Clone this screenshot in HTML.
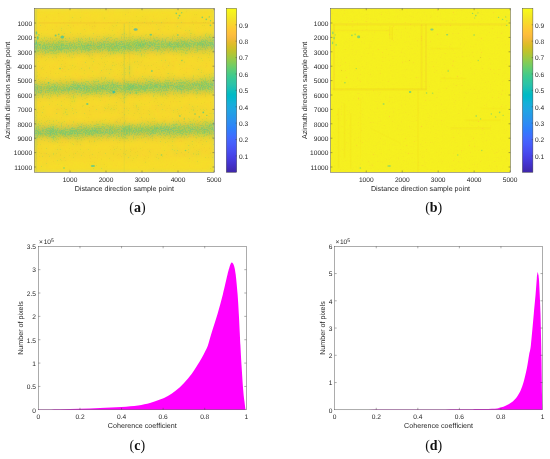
<!DOCTYPE html>
<html lang="en"><head><meta charset="utf-8"><title>Coherence coefficient maps and histograms</title>
<style>
html,body{margin:0;padding:0;background:#fff;}
body{width:550px;height:459px;overflow:hidden;}
svg{display:block;}
.t{text-rendering:geometricPrecision;font-family:"Liberation Sans",Arial,sans-serif;fill:#262626;}
.tk{font-size:6.6px;}
.lb{font-size:7.15px;}
.cap{font-family:"Liberation Serif","DejaVu Serif",serif;font-size:14px;fill:#111;}
.cap .b{font-weight:bold;}
.ax{stroke:#3a3a3a;stroke-width:0.42;fill:none;}
</style></head><body>
<svg width="550" height="459" viewBox="0 0 550 459">
<defs>
<linearGradient id="cb" x1="0" y1="0" x2="0" y2="1">
<stop offset="0.0000" stop-color="#f9fb15"/>
<stop offset="0.0159" stop-color="#f7f51b"/>
<stop offset="0.0317" stop-color="#f6ef20"/>
<stop offset="0.0476" stop-color="#f5e924"/>
<stop offset="0.0635" stop-color="#f5e327"/>
<stop offset="0.0794" stop-color="#f7dc2a"/>
<stop offset="0.0952" stop-color="#fad62d"/>
<stop offset="0.1111" stop-color="#fccf30"/>
<stop offset="0.1270" stop-color="#fec934"/>
<stop offset="0.1429" stop-color="#fec338"/>
<stop offset="0.1587" stop-color="#febe3c"/>
<stop offset="0.1746" stop-color="#f8ba3d"/>
<stop offset="0.1905" stop-color="#f0ba36"/>
<stop offset="0.2063" stop-color="#e6bb2d"/>
<stop offset="0.2222" stop-color="#dcbd29"/>
<stop offset="0.2381" stop-color="#d1bf27"/>
<stop offset="0.2540" stop-color="#c5c22a"/>
<stop offset="0.2698" stop-color="#b9c431"/>
<stop offset="0.2857" stop-color="#abc739"/>
<stop offset="0.3016" stop-color="#9dc943"/>
<stop offset="0.3175" stop-color="#8fcb4e"/>
<stop offset="0.3333" stop-color="#81cc59"/>
<stop offset="0.3492" stop-color="#72cd64"/>
<stop offset="0.3651" stop-color="#64cd6f"/>
<stop offset="0.3810" stop-color="#57cc7a"/>
<stop offset="0.3968" stop-color="#4acb84"/>
<stop offset="0.4127" stop-color="#3fca8e"/>
<stop offset="0.4286" stop-color="#37c897"/>
<stop offset="0.4444" stop-color="#31c69f"/>
<stop offset="0.4603" stop-color="#2cc4a7"/>
<stop offset="0.4762" stop-color="#24c1ae"/>
<stop offset="0.4921" stop-color="#19bfb6"/>
<stop offset="0.5079" stop-color="#0bbdbd"/>
<stop offset="0.5238" stop-color="#02bac3"/>
<stop offset="0.5397" stop-color="#01b8ca"/>
<stop offset="0.5556" stop-color="#08b5d0"/>
<stop offset="0.5714" stop-color="#12b1d6"/>
<stop offset="0.5873" stop-color="#18addb"/>
<stop offset="0.6032" stop-color="#1ca9df"/>
<stop offset="0.6190" stop-color="#20a5e3"/>
<stop offset="0.6349" stop-color="#23a0e5"/>
<stop offset="0.6508" stop-color="#259be8"/>
<stop offset="0.6667" stop-color="#2797eb"/>
<stop offset="0.6825" stop-color="#2b91ef"/>
<stop offset="0.6984" stop-color="#2d8cf3"/>
<stop offset="0.7143" stop-color="#2e87f7"/>
<stop offset="0.7302" stop-color="#2f81fa"/>
<stop offset="0.7460" stop-color="#327cfc"/>
<stop offset="0.7619" stop-color="#3875fe"/>
<stop offset="0.7778" stop-color="#3e6fff"/>
<stop offset="0.7937" stop-color="#4269fe"/>
<stop offset="0.8095" stop-color="#4563fd"/>
<stop offset="0.8254" stop-color="#465efb"/>
<stop offset="0.8413" stop-color="#4758f8"/>
<stop offset="0.8571" stop-color="#4852f4"/>
<stop offset="0.8730" stop-color="#484df0"/>
<stop offset="0.8889" stop-color="#4747eb"/>
<stop offset="0.9048" stop-color="#4741e5"/>
<stop offset="0.9206" stop-color="#463cde"/>
<stop offset="0.9365" stop-color="#4537d5"/>
<stop offset="0.9524" stop-color="#4332cb"/>
<stop offset="0.9683" stop-color="#422ec0"/>
<stop offset="0.9841" stop-color="#402ab4"/>
<stop offset="1.0000" stop-color="#3e26a8"/>
</linearGradient>
<filter id="fa" x="0" y="0" width="1" height="1" color-interpolation-filters="sRGB">
<feTurbulence type="fractalNoise" baseFrequency="0.75" numOctaves="2" seed="3" result="n"/>
<feColorMatrix in="n" type="matrix" values="1 0 0 0 0  1 0 0 0 0  1 0 0 0 0  0 0 0 0 1" result="ng"/>
<feComposite in="SourceGraphic" in2="ng" operator="arithmetic" k1="0" k2="1" k3="1" k4="-0.5" result="x"/>
<feComponentTransfer in="x" result="col">
<feFuncR type="table" tableValues="0.177 0.173 0.169 0.163 0.155 0.151 0.147 0.143 0.139 0.132 0.126 0.120 0.114 0.107 0.100 0.091 0.080 0.068 0.051 0.033 0.021 0.009 0.004 0.006 0.011 0.027 0.043 0.067 0.090 0.111 0.130 0.149 0.165 0.178 0.189 0.200 0.211 0.225 0.241 0.260 0.282 0.318 0.356 0.395 0.436 0.480 0.567 0.650 0.730 0.803 0.869 0.920 0.966 0.996 0.996 0.991 0.990 0.989 0.988 0.986 0.985 0.984 0.982 0.981 0.980 0.978 0.977 0.976 0.976 0.975 0.974 0.972 0.971 0.970 0.969 0.968 0.967 0.967 0.966 0.965 0.965 0.964 0.964 0.963 0.963 0.962 0.962 0.961 0.961 0.961 0.961 0.961 0.961 0.960 0.960 0.960 0.960 0.960 0.960 0.960 0.960"/>
<feFuncG type="table" tableValues="0.548 0.558 0.568 0.578 0.589 0.598 0.608 0.617 0.626 0.636 0.645 0.653 0.660 0.668 0.675 0.682 0.689 0.695 0.701 0.707 0.712 0.718 0.723 0.728 0.732 0.737 0.741 0.745 0.749 0.753 0.756 0.761 0.765 0.769 0.774 0.778 0.782 0.786 0.790 0.793 0.796 0.799 0.801 0.803 0.802 0.801 0.794 0.783 0.769 0.754 0.740 0.731 0.730 0.746 0.776 0.808 0.811 0.814 0.817 0.820 0.823 0.826 0.830 0.833 0.836 0.839 0.841 0.843 0.846 0.848 0.850 0.853 0.855 0.858 0.860 0.863 0.865 0.868 0.870 0.873 0.876 0.877 0.879 0.881 0.883 0.885 0.887 0.889 0.891 0.893 0.894 0.896 0.897 0.899 0.901 0.902 0.904 0.905 0.907 0.908 0.910"/>
<feFuncB type="table" tableValues="0.954 0.945 0.937 0.930 0.923 0.916 0.909 0.903 0.898 0.893 0.889 0.884 0.878 0.872 0.865 0.857 0.848 0.839 0.829 0.818 0.808 0.797 0.786 0.774 0.763 0.751 0.740 0.727 0.715 0.703 0.691 0.677 0.662 0.647 0.632 0.616 0.599 0.582 0.564 0.545 0.526 0.497 0.465 0.432 0.399 0.366 0.301 0.238 0.188 0.158 0.162 0.192 0.233 0.235 0.213 0.192 0.190 0.188 0.187 0.185 0.184 0.182 0.181 0.179 0.178 0.176 0.175 0.174 0.173 0.172 0.171 0.170 0.169 0.167 0.166 0.165 0.164 0.163 0.162 0.160 0.159 0.159 0.158 0.157 0.156 0.155 0.155 0.154 0.153 0.152 0.151 0.150 0.150 0.149 0.148 0.148 0.147 0.146 0.145 0.145 0.144"/>
<feFuncA type="linear" slope="0" intercept="1"/>
</feComponentTransfer>
<feGaussianBlur in="col" stdDeviation="0.50" result="b1"/>
<feGaussianBlur in="col" stdDeviation="2.50" result="b2"/>
<feComposite in="b1" in2="b2" operator="arithmetic" k1="0" k2="0.18" k3="0.82" k4="0"/>
</filter>
<filter id="fb" x="0" y="0" width="1" height="1" color-interpolation-filters="sRGB">
<feTurbulence type="fractalNoise" baseFrequency="0.75" numOctaves="2" seed="11" result="n"/>
<feColorMatrix in="n" type="matrix" values="1 0 0 0 0  1 0 0 0 0  1 0 0 0 0  0 0 0 0 1" result="ng"/>
<feComposite in="SourceGraphic" in2="ng" operator="arithmetic" k1="0" k2="1" k3="1" k4="-0.5" result="x"/>
<feComponentTransfer in="x" result="col">
<feFuncR type="table" tableValues="0.177 0.173 0.169 0.163 0.155 0.151 0.147 0.143 0.139 0.132 0.126 0.119 0.112 0.104 0.096 0.083 0.070 0.051 0.031 0.017 0.004 0.005 0.011 0.032 0.056 0.087 0.113 0.139 0.157 0.174 0.186 0.207 0.233 0.268 0.312 0.359 0.408 0.461 0.516 0.570 0.623 0.684 0.742 0.797 0.848 0.894 0.936 0.974 0.996 0.996 0.993 0.989 0.983 0.977 0.971 0.966 0.964 0.962 0.961 0.961 0.960 0.960 0.960 0.960 0.960 0.961 0.961 0.961 0.962 0.962 0.962 0.962 0.962 0.962 0.963 0.963 0.963 0.963 0.963 0.963 0.963 0.964 0.964 0.964 0.964 0.964 0.964 0.964 0.964 0.964 0.964 0.964 0.965 0.965 0.965 0.965 0.965 0.965 0.965 0.965 0.965"/>
<feFuncG type="table" tableValues="0.548 0.558 0.568 0.578 0.589 0.598 0.608 0.617 0.626 0.636 0.645 0.654 0.663 0.671 0.679 0.687 0.694 0.701 0.708 0.714 0.720 0.726 0.732 0.738 0.743 0.748 0.753 0.758 0.763 0.768 0.773 0.781 0.788 0.794 0.799 0.802 0.803 0.802 0.798 0.793 0.787 0.777 0.766 0.755 0.744 0.735 0.729 0.730 0.747 0.773 0.800 0.814 0.828 0.842 0.857 0.871 0.877 0.883 0.890 0.896 0.902 0.906 0.910 0.913 0.917 0.920 0.923 0.925 0.928 0.930 0.932 0.933 0.934 0.935 0.935 0.936 0.937 0.938 0.938 0.939 0.940 0.940 0.940 0.941 0.941 0.941 0.942 0.942 0.942 0.943 0.943 0.943 0.944 0.944 0.945 0.945 0.945 0.946 0.946 0.947 0.947"/>
<feFuncB type="table" tableValues="0.954 0.945 0.937 0.930 0.923 0.916 0.909 0.903 0.898 0.893 0.889 0.883 0.877 0.869 0.861 0.850 0.840 0.829 0.817 0.805 0.792 0.778 0.763 0.748 0.733 0.717 0.701 0.686 0.669 0.653 0.636 0.606 0.573 0.538 0.502 0.463 0.421 0.380 0.339 0.298 0.257 0.215 0.181 0.159 0.157 0.173 0.207 0.239 0.234 0.215 0.197 0.188 0.182 0.175 0.168 0.161 0.159 0.156 0.153 0.150 0.148 0.146 0.144 0.142 0.140 0.138 0.136 0.135 0.133 0.131 0.130 0.129 0.129 0.128 0.128 0.127 0.127 0.126 0.126 0.125 0.124 0.124 0.124 0.124 0.123 0.123 0.123 0.123 0.122 0.122 0.122 0.121 0.121 0.121 0.120 0.120 0.119 0.119 0.119 0.118 0.118"/>
<feFuncA type="linear" slope="0" intercept="1"/>
</feComponentTransfer>
<feGaussianBlur in="col" stdDeviation="0.40" result="b1"/>
<feGaussianBlur in="col" stdDeviation="1.00" result="b2"/>
<feComposite in="b1" in2="b2" operator="arithmetic" k1="0" k2="0.50" k3="0.50" k4="0"/>
</filter>
<linearGradient id="ga" gradientUnits="userSpaceOnUse" x1="34.30" y1="8.40" x2="37.42" y2="178.40">
<stop offset="0.0000" stop-color="#c7c7c7"/>
<stop offset="0.0118" stop-color="#c7c7c7"/>
<stop offset="0.0235" stop-color="#c7c7c7"/>
<stop offset="0.0353" stop-color="#c7c7c7"/>
<stop offset="0.0471" stop-color="#c7c7c7"/>
<stop offset="0.0588" stop-color="#c6c6c6"/>
<stop offset="0.0706" stop-color="#c4c4c4"/>
<stop offset="0.0824" stop-color="#c0c0c0"/>
<stop offset="0.0941" stop-color="#bcbcbc"/>
<stop offset="0.1059" stop-color="#bababa"/>
<stop offset="0.1176" stop-color="#bbbbbb"/>
<stop offset="0.1294" stop-color="#bdbdbd"/>
<stop offset="0.1412" stop-color="#bebebe"/>
<stop offset="0.1529" stop-color="#bababa"/>
<stop offset="0.1647" stop-color="#b2b2b2"/>
<stop offset="0.1765" stop-color="#a6a6a6"/>
<stop offset="0.1882" stop-color="#979797"/>
<stop offset="0.2000" stop-color="#888888"/>
<stop offset="0.2118" stop-color="#7b7b7b"/>
<stop offset="0.2235" stop-color="#747474"/>
<stop offset="0.2353" stop-color="#747474"/>
<stop offset="0.2471" stop-color="#7b7b7b"/>
<stop offset="0.2588" stop-color="#888888"/>
<stop offset="0.2706" stop-color="#979797"/>
<stop offset="0.2824" stop-color="#a6a6a6"/>
<stop offset="0.2941" stop-color="#b1b1b1"/>
<stop offset="0.3059" stop-color="#b8b8b8"/>
<stop offset="0.3176" stop-color="#bababa"/>
<stop offset="0.3294" stop-color="#b8b8b8"/>
<stop offset="0.3412" stop-color="#b5b5b5"/>
<stop offset="0.3529" stop-color="#b4b4b4"/>
<stop offset="0.3647" stop-color="#b5b5b5"/>
<stop offset="0.3765" stop-color="#b8b8b8"/>
<stop offset="0.3882" stop-color="#b9b9b9"/>
<stop offset="0.4000" stop-color="#b6b6b6"/>
<stop offset="0.4118" stop-color="#afafaf"/>
<stop offset="0.4235" stop-color="#a3a3a3"/>
<stop offset="0.4353" stop-color="#949494"/>
<stop offset="0.4471" stop-color="#858585"/>
<stop offset="0.4588" stop-color="#797979"/>
<stop offset="0.4706" stop-color="#737373"/>
<stop offset="0.4824" stop-color="#757575"/>
<stop offset="0.4941" stop-color="#7d7d7d"/>
<stop offset="0.5059" stop-color="#8b8b8b"/>
<stop offset="0.5176" stop-color="#9a9a9a"/>
<stop offset="0.5294" stop-color="#a8a8a8"/>
<stop offset="0.5412" stop-color="#b3b3b3"/>
<stop offset="0.5529" stop-color="#bababa"/>
<stop offset="0.5647" stop-color="#bcbcbc"/>
<stop offset="0.5765" stop-color="#b9b9b9"/>
<stop offset="0.5882" stop-color="#b4b4b4"/>
<stop offset="0.6000" stop-color="#b0b0b0"/>
<stop offset="0.6118" stop-color="#b0b0b0"/>
<stop offset="0.6235" stop-color="#b3b3b3"/>
<stop offset="0.6353" stop-color="#b7b7b7"/>
<stop offset="0.6471" stop-color="#b8b8b8"/>
<stop offset="0.6588" stop-color="#b5b5b5"/>
<stop offset="0.6706" stop-color="#acacac"/>
<stop offset="0.6824" stop-color="#9f9f9f"/>
<stop offset="0.6941" stop-color="#8f8f8f"/>
<stop offset="0.7059" stop-color="#818181"/>
<stop offset="0.7176" stop-color="#777777"/>
<stop offset="0.7294" stop-color="#737373"/>
<stop offset="0.7412" stop-color="#777777"/>
<stop offset="0.7529" stop-color="#818181"/>
<stop offset="0.7647" stop-color="#8f8f8f"/>
<stop offset="0.7765" stop-color="#9f9f9f"/>
<stop offset="0.7882" stop-color="#acacac"/>
<stop offset="0.8000" stop-color="#b6b6b6"/>
<stop offset="0.8118" stop-color="#bcbcbc"/>
<stop offset="0.8235" stop-color="#bdbdbd"/>
<stop offset="0.8353" stop-color="#b9b9b9"/>
<stop offset="0.8471" stop-color="#b4b4b4"/>
<stop offset="0.8588" stop-color="#b0b0b0"/>
<stop offset="0.8706" stop-color="#b0b0b0"/>
<stop offset="0.8824" stop-color="#b5b5b5"/>
<stop offset="0.8941" stop-color="#bbbbbb"/>
<stop offset="0.9059" stop-color="#c1c1c1"/>
<stop offset="0.9176" stop-color="#c4c4c4"/>
<stop offset="0.9294" stop-color="#c6c6c6"/>
<stop offset="0.9412" stop-color="#c7c7c7"/>
<stop offset="0.9529" stop-color="#c7c7c7"/>
<stop offset="0.9647" stop-color="#c7c7c7"/>
<stop offset="0.9765" stop-color="#c7c7c7"/>
<stop offset="0.9882" stop-color="#c7c7c7"/>
<stop offset="1.0000" stop-color="#c7c7c7"/>
</linearGradient>
<clipPath id="ca"><rect x="34.30" y="8.40" width="180.00" height="163.90"/></clipPath>
<clipPath id="cpb"><rect x="330.60" y="8.40" width="179.80" height="163.90"/></clipPath>
<filter id="soft" x="-5%" y="-5%" width="110%" height="110%"><feGaussianBlur stdDeviation="0.5"/></filter>
</defs>
<rect x="0" y="0" width="550" height="459" fill="#ffffff"/>
<g filter="url(#fa)" clip-path="url(#ca)">
<rect x="32.30" y="6.40" width="184.00" height="167.90" fill="url(#ga)"/>
<g opacity="0.4">
<path d="M124.3 24.4L124.3 128.4" stroke="#808080" stroke-width="1.2" fill="none"/>
<path d="M129.5 24.4L129.5 78.4" stroke="#8c8c8c" stroke-width="1.2" fill="none"/>
<path d="M94.5 18.4L94.5 38.6" stroke="#858585" stroke-width="1.0" fill="none"/>
<path d="M53.3 38.6L94.5 38.6" stroke="#808080" stroke-width="1.0" fill="none"/>
<path d="M100.0 35.0L100.0 46.0" stroke="#808080" stroke-width="1.0" fill="none"/>
<path d="M35.8 8.4L35.8 172.4" stroke="#8c8c8c" stroke-width="1.0" fill="none"/>
<path d="M39.3 28.4L39.3 172.4" stroke="#999999" stroke-width="1.0" fill="none"/>
<path d="M46.7 148.4L46.7 168.4" stroke="#595959" stroke-width="1.0" fill="none"/>
<path d="M38.3 22.9L211.3 22.9" stroke="#999999" stroke-width="1.0" fill="none"/>
</g>
</g>
<g clip-path="url(#ca)"><g filter="url(#soft)">
<ellipse cx="135.6" cy="29.5" rx="2.0" ry="1.2" fill="#19addc" fill-opacity="0.60"/>
<ellipse cx="150.8" cy="34.8" rx="1.3" ry="1.0" fill="#2ac3a9" fill-opacity="0.60"/>
<ellipse cx="177.8" cy="35.0" rx="1.0" ry="0.8" fill="#38c896" fill-opacity="0.60"/>
<ellipse cx="62.3" cy="36.9" rx="1.8" ry="1.5" fill="#0dbdbc" fill-opacity="0.60"/>
<ellipse cx="55.6" cy="35.4" rx="1.0" ry="1.0" fill="#2ac3a9" fill-opacity="0.60"/>
<ellipse cx="58.8" cy="34.4" rx="0.7" ry="0.9" fill="#38c896" fill-opacity="0.60"/>
<ellipse cx="36.5" cy="32.9" rx="0.9" ry="1.6" fill="#2ac3a9" fill-opacity="0.60"/>
<ellipse cx="37.8" cy="37.9" rx="1.0" ry="1.8" fill="#2fc5a2" fill-opacity="0.60"/>
<ellipse cx="36.3" cy="42.9" rx="0.8" ry="1.6" fill="#35c79a" fill-opacity="0.60"/>
<ellipse cx="39.8" cy="44.9" rx="0.8" ry="0.9" fill="#41ca8c" fill-opacity="0.60"/>
<ellipse cx="38.9" cy="34.9" rx="0.7" ry="0.8" fill="#41ca8c" fill-opacity="0.60"/>
<ellipse cx="113.8" cy="92.0" rx="1.5" ry="1.2" fill="#01b9c8" fill-opacity="0.60"/>
<ellipse cx="130.3" cy="93.0" rx="1.0" ry="0.8" fill="#38c896" fill-opacity="0.60"/>
<ellipse cx="136.3" cy="93.2" rx="1.0" ry="0.7" fill="#53cc7d" fill-opacity="0.60"/>
<ellipse cx="87.3" cy="104.0" rx="1.2" ry="1.0" fill="#2ac3a9" fill-opacity="0.60"/>
<ellipse cx="48.6" cy="82.8" rx="0.9" ry="0.9" fill="#38c896" fill-opacity="0.60"/>
<ellipse cx="151.9" cy="71.0" rx="0.9" ry="0.9" fill="#38c896" fill-opacity="0.60"/>
<ellipse cx="181.9" cy="60.5" rx="0.8" ry="0.8" fill="#53cc7d" fill-opacity="0.60"/>
<ellipse cx="179.9" cy="116.0" rx="0.9" ry="0.8" fill="#2fc5a2" fill-opacity="0.60"/>
<ellipse cx="195.0" cy="114.0" rx="0.8" ry="0.8" fill="#38c896" fill-opacity="0.60"/>
<ellipse cx="203.3" cy="112.4" rx="0.9" ry="0.9" fill="#2fc5a2" fill-opacity="0.60"/>
<ellipse cx="184.3" cy="118.9" rx="0.7" ry="0.7" fill="#53cc7d" fill-opacity="0.60"/>
<ellipse cx="199.3" cy="116.9" rx="0.8" ry="0.7" fill="#46cb87" fill-opacity="0.60"/>
<ellipse cx="206.8" cy="115.4" rx="0.7" ry="0.7" fill="#53cc7d" fill-opacity="0.60"/>
<ellipse cx="92.9" cy="166.0" rx="2.2" ry="0.9" fill="#23c1af" fill-opacity="0.60"/>
<ellipse cx="64.0" cy="168.0" rx="0.9" ry="0.8" fill="#46cb87" fill-opacity="0.60"/>
<ellipse cx="176.3" cy="13.4" rx="0.8" ry="0.8" fill="#2fc5a2" fill-opacity="0.60"/>
<ellipse cx="179.5" cy="15.6" rx="0.9" ry="0.9" fill="#2fc5a2" fill-opacity="0.60"/>
<ellipse cx="181.7" cy="12.8" rx="0.7" ry="0.7" fill="#46cb87" fill-opacity="0.60"/>
<ellipse cx="178.3" cy="18.0" rx="0.7" ry="0.7" fill="#53cc7d" fill-opacity="0.60"/>
<ellipse cx="202.3" cy="17.4" rx="0.8" ry="0.8" fill="#38c896" fill-opacity="0.60"/>
<ellipse cx="206.3" cy="19.4" rx="0.8" ry="0.8" fill="#38c896" fill-opacity="0.60"/>
<ellipse cx="209.3" cy="16.9" rx="0.7" ry="0.7" fill="#46cb87" fill-opacity="0.60"/>
<ellipse cx="210.5" cy="20.8" rx="0.7" ry="0.7" fill="#46cb87" fill-opacity="0.60"/>
<ellipse cx="210.4" cy="25.4" rx="0.8" ry="0.8" fill="#38c896" fill-opacity="0.60"/>
<ellipse cx="185.5" cy="150.5" rx="0.8" ry="0.8" fill="#53cc7d" fill-opacity="0.60"/>
<ellipse cx="161.5" cy="155.0" rx="0.8" ry="0.8" fill="#53cc7d" fill-opacity="0.60"/>
<ellipse cx="60.0" cy="68.6" rx="0.8" ry="0.8" fill="#53cc7d" fill-opacity="0.60"/>
</g></g>
<g clip-path="url(#ca)" stroke="#5fb98a" fill="none">
<path d="M124.3 23.4V103.4" stroke-opacity="0.17" stroke-width="1.2"/>
<path d="M124.3 103.4V172.4" stroke-opacity="0.07" stroke-width="1.2"/>
<path d="M129.5 24.4V78.4" stroke-opacity="0.09" stroke-width="1.2"/>
<path d="M36.3 8.4V172.4" stroke-opacity="0.14" stroke-width="1.6"/>
<path d="M38.3 22.9H211.3" stroke="#e8a030" stroke-opacity="0.18" stroke-width="1.2"/>
</g>
<g filter="url(#fb)" clip-path="url(#cpb)">
<rect x="328.60" y="6.40" width="183.80" height="167.90" fill="#d9d9d9"/>
</g>
<g clip-path="url(#cpb)"><g filter="url(#soft)">
<ellipse cx="431.9" cy="29.5" rx="1.7" ry="1.0" fill="#19addc" fill-opacity="0.50"/>
<ellipse cx="447.1" cy="34.8" rx="1.1" ry="0.8" fill="#2ac3a9" fill-opacity="0.50"/>
<ellipse cx="474.1" cy="35.0" rx="0.8" ry="0.7" fill="#38c896" fill-opacity="0.50"/>
<ellipse cx="358.6" cy="36.9" rx="1.5" ry="1.3" fill="#0dbdbc" fill-opacity="0.50"/>
<ellipse cx="351.9" cy="35.4" rx="0.8" ry="0.8" fill="#2ac3a9" fill-opacity="0.50"/>
<ellipse cx="355.1" cy="34.4" rx="0.6" ry="0.8" fill="#38c896" fill-opacity="0.50"/>
<ellipse cx="332.8" cy="32.9" rx="0.8" ry="1.4" fill="#2ac3a9" fill-opacity="0.50"/>
<ellipse cx="334.1" cy="37.9" rx="0.8" ry="1.5" fill="#2fc5a2" fill-opacity="0.50"/>
<ellipse cx="332.6" cy="42.9" rx="0.7" ry="1.4" fill="#35c79a" fill-opacity="0.50"/>
<ellipse cx="336.1" cy="44.9" rx="0.7" ry="0.8" fill="#41ca8c" fill-opacity="0.50"/>
<ellipse cx="335.2" cy="34.9" rx="0.6" ry="0.7" fill="#41ca8c" fill-opacity="0.50"/>
<ellipse cx="410.1" cy="92.0" rx="1.3" ry="1.0" fill="#01b9c8" fill-opacity="0.50"/>
<ellipse cx="426.6" cy="93.0" rx="0.8" ry="0.7" fill="#38c896" fill-opacity="0.50"/>
<ellipse cx="432.6" cy="93.2" rx="0.8" ry="0.6" fill="#53cc7d" fill-opacity="0.50"/>
<ellipse cx="383.6" cy="104.0" rx="1.0" ry="0.8" fill="#2ac3a9" fill-opacity="0.50"/>
<ellipse cx="344.9" cy="82.8" rx="0.8" ry="0.8" fill="#38c896" fill-opacity="0.50"/>
<ellipse cx="448.2" cy="71.0" rx="0.8" ry="0.8" fill="#38c896" fill-opacity="0.50"/>
<ellipse cx="478.2" cy="60.5" rx="0.7" ry="0.7" fill="#53cc7d" fill-opacity="0.50"/>
<ellipse cx="476.2" cy="116.0" rx="0.8" ry="0.7" fill="#2fc5a2" fill-opacity="0.50"/>
<ellipse cx="491.3" cy="114.0" rx="0.7" ry="0.7" fill="#38c896" fill-opacity="0.50"/>
<ellipse cx="499.6" cy="112.4" rx="0.8" ry="0.8" fill="#2fc5a2" fill-opacity="0.50"/>
<ellipse cx="480.6" cy="118.9" rx="0.6" ry="0.6" fill="#53cc7d" fill-opacity="0.50"/>
<ellipse cx="495.6" cy="116.9" rx="0.7" ry="0.6" fill="#46cb87" fill-opacity="0.50"/>
<ellipse cx="503.1" cy="115.4" rx="0.6" ry="0.6" fill="#53cc7d" fill-opacity="0.50"/>
<ellipse cx="389.2" cy="166.0" rx="1.9" ry="0.8" fill="#23c1af" fill-opacity="0.50"/>
<ellipse cx="360.3" cy="168.0" rx="0.8" ry="0.7" fill="#46cb87" fill-opacity="0.50"/>
<ellipse cx="472.6" cy="13.4" rx="0.7" ry="0.7" fill="#2fc5a2" fill-opacity="0.50"/>
<ellipse cx="475.8" cy="15.6" rx="0.8" ry="0.8" fill="#2fc5a2" fill-opacity="0.50"/>
<ellipse cx="478.0" cy="12.8" rx="0.6" ry="0.6" fill="#46cb87" fill-opacity="0.50"/>
<ellipse cx="474.6" cy="18.0" rx="0.6" ry="0.6" fill="#53cc7d" fill-opacity="0.50"/>
<ellipse cx="498.6" cy="17.4" rx="0.7" ry="0.7" fill="#38c896" fill-opacity="0.50"/>
<ellipse cx="502.6" cy="19.4" rx="0.7" ry="0.7" fill="#38c896" fill-opacity="0.50"/>
<ellipse cx="505.6" cy="16.9" rx="0.6" ry="0.6" fill="#46cb87" fill-opacity="0.50"/>
<ellipse cx="506.8" cy="20.8" rx="0.6" ry="0.6" fill="#46cb87" fill-opacity="0.50"/>
<ellipse cx="506.7" cy="25.4" rx="0.7" ry="0.7" fill="#38c896" fill-opacity="0.50"/>
<ellipse cx="481.8" cy="150.5" rx="0.7" ry="0.7" fill="#53cc7d" fill-opacity="0.50"/>
<ellipse cx="457.8" cy="155.0" rx="0.7" ry="0.7" fill="#53cc7d" fill-opacity="0.50"/>
<ellipse cx="356.3" cy="68.6" rx="0.7" ry="0.7" fill="#53cc7d" fill-opacity="0.50"/>
</g></g>
<g clip-path="url(#cpb)"><g filter="url(#soft)">
<path d="M332.6 24.3L507.6 24.3" stroke="#e8a828" stroke-opacity="0.15" stroke-width="2.3" fill="none"/>
<path d="M332.6 89.4L426.6 89.4" stroke="#e8a828" stroke-opacity="0.16" stroke-width="2.3" fill="none"/>
<path d="M421.6 24.3L421.6 89.4" stroke="#e8a828" stroke-opacity="0.15" stroke-width="1.9" fill="none"/>
<path d="M426.0 24.3L426.0 89.4" stroke="#e8a828" stroke-opacity="0.15" stroke-width="1.9" fill="none"/>
<path d="M334.0 24.3L334.0 89.4" stroke="#e8a828" stroke-opacity="0.14" stroke-width="1.9" fill="none"/>
<path d="M418.0 89.4L418.0 172.4" stroke="#e8a828" stroke-opacity="0.09" stroke-width="1.5" fill="none"/>
<path d="M334.0 30.4L389.6 30.4" stroke="#e8a828" stroke-opacity="0.10" stroke-width="1.5" fill="none"/>
<path d="M389.7 26.4L389.7 39.0" stroke="#e8a828" stroke-opacity="0.12" stroke-width="1.5" fill="none"/>
<path d="M392.2 27.0L392.2 40.0" stroke="#e8a828" stroke-opacity="0.12" stroke-width="1.5" fill="none"/>
<path d="M338.6 108.4L338.6 168.4" stroke="#e8a828" stroke-opacity="0.08" stroke-width="1.7" fill="none"/>
<path d="M344.6 103.4L344.6 158.4" stroke="#e8a828" stroke-opacity="0.08" stroke-width="1.7" fill="none"/>
<path d="M350.6 113.4L350.6 168.4" stroke="#e8a828" stroke-opacity="0.07" stroke-width="1.7" fill="none"/>
<path d="M360.6 98.4L360.6 158.4" stroke="#e8a828" stroke-opacity="0.05" stroke-width="1.5" fill="none"/>
<path d="M440.6 78.4L465.6 78.4" stroke="#e8a828" stroke-opacity="0.08" stroke-width="1.7" fill="none"/>
<path d="M450.6 128.4L490.6 128.4" stroke="#e8a828" stroke-opacity="0.09" stroke-width="2.1" fill="none"/>
<path d="M465.6 120.4L500.6 120.4" stroke="#e8a828" stroke-opacity="0.08" stroke-width="1.7" fill="none"/>
<path d="M480.6 108.4L506.6 108.4" stroke="#e8a828" stroke-opacity="0.06" stroke-width="1.5" fill="none"/>
<path d="M430.6 48.4L460.6 48.4" stroke="#e8a828" stroke-opacity="0.06" stroke-width="1.5" fill="none"/>
<path d="M370.6 128.4L400.6 143.4" stroke="#e8a828" stroke-opacity="0.05" stroke-width="1.5" fill="none"/>
</g></g>
<rect class="ax" x="34.30" y="8.40" width="180.00" height="163.90"/>
<text class="t tk" x="70.00" y="181.60" text-anchor="middle">1000</text>
<text class="t tk" x="106.00" y="181.60" text-anchor="middle">2000</text>
<text class="t tk" x="142.00" y="181.60" text-anchor="middle">3000</text>
<text class="t tk" x="178.00" y="181.60" text-anchor="middle">4000</text>
<text class="t tk" x="214.00" y="181.60" text-anchor="middle">5000</text>
<text class="t tk" x="32.10" y="25.80" text-anchor="end">1000</text>
<text class="t tk" x="32.10" y="40.20" text-anchor="end">2000</text>
<text class="t tk" x="32.10" y="54.60" text-anchor="end">3000</text>
<text class="t tk" x="32.10" y="69.00" text-anchor="end">4000</text>
<text class="t tk" x="32.10" y="83.40" text-anchor="end">5000</text>
<text class="t tk" x="32.10" y="97.80" text-anchor="end">6000</text>
<text class="t tk" x="32.10" y="112.20" text-anchor="end">7000</text>
<text class="t tk" x="32.10" y="126.60" text-anchor="end">8000</text>
<text class="t tk" x="32.10" y="141.00" text-anchor="end">9000</text>
<text class="t tk" x="32.10" y="155.40" text-anchor="end">10000</text>
<text class="t tk" x="32.10" y="169.80" text-anchor="end">11000</text>
<path class="ax" d="M70.00 172.30v-1.8M70.00 8.40v1.8M106.00 172.30v-1.8M106.00 8.40v1.8M142.00 172.30v-1.8M142.00 8.40v1.8M178.00 172.30v-1.8M178.00 8.40v1.8M214.00 172.30v-1.8M214.00 8.40v1.8M34.30 23.00h1.8M214.30 23.00h-1.8M34.30 37.40h1.8M214.30 37.40h-1.8M34.30 51.80h1.8M214.30 51.80h-1.8M34.30 66.20h1.8M214.30 66.20h-1.8M34.30 80.60h1.8M214.30 80.60h-1.8M34.30 95.00h1.8M214.30 95.00h-1.8M34.30 109.40h1.8M214.30 109.40h-1.8M34.30 123.80h1.8M214.30 123.80h-1.8M34.30 138.20h1.8M214.30 138.20h-1.8M34.30 152.60h1.8M214.30 152.60h-1.8M34.30 167.00h1.8M214.30 167.00h-1.8"/>
<text class="t lb" x="124.30" y="190.90" text-anchor="middle">Distance direction sample point</text>
<text class="t lb" transform="translate(10.20 90.35) rotate(-90)" text-anchor="middle">Azimuth direction sample point</text>
<rect x="226.30" y="8.40" width="10.40" height="163.90" fill="url(#cb)"/>
<rect class="ax" x="226.30" y="8.40" width="10.40" height="163.90"/>
<text class="t tk" x="238.90" y="158.71">0.1</text>
<text class="t tk" x="238.90" y="142.32">0.2</text>
<text class="t tk" x="238.90" y="125.93">0.3</text>
<text class="t tk" x="238.90" y="109.54">0.4</text>
<text class="t tk" x="238.90" y="93.15">0.5</text>
<text class="t tk" x="238.90" y="76.76">0.6</text>
<text class="t tk" x="238.90" y="60.37">0.7</text>
<text class="t tk" x="238.90" y="43.98">0.8</text>
<text class="t tk" x="238.90" y="27.59">0.9</text>
<path class="ax" d="M236.70 155.91h-1.2M236.70 139.52h-1.2M236.70 123.13h-1.2M236.70 106.74h-1.2M236.70 90.35h-1.2M236.70 73.96h-1.2M236.70 57.57h-1.2M236.70 41.18h-1.2M236.70 24.79h-1.2"/>
<rect class="ax" x="330.60" y="8.40" width="179.80" height="163.90"/>
<text class="t tk" x="366.26" y="181.60" text-anchor="middle">1000</text>
<text class="t tk" x="402.22" y="181.60" text-anchor="middle">2000</text>
<text class="t tk" x="438.18" y="181.60" text-anchor="middle">3000</text>
<text class="t tk" x="474.14" y="181.60" text-anchor="middle">4000</text>
<text class="t tk" x="510.10" y="181.60" text-anchor="middle">5000</text>
<text class="t tk" x="328.40" y="25.80" text-anchor="end">1000</text>
<text class="t tk" x="328.40" y="40.20" text-anchor="end">2000</text>
<text class="t tk" x="328.40" y="54.60" text-anchor="end">3000</text>
<text class="t tk" x="328.40" y="69.00" text-anchor="end">4000</text>
<text class="t tk" x="328.40" y="83.40" text-anchor="end">5000</text>
<text class="t tk" x="328.40" y="97.80" text-anchor="end">6000</text>
<text class="t tk" x="328.40" y="112.20" text-anchor="end">7000</text>
<text class="t tk" x="328.40" y="126.60" text-anchor="end">8000</text>
<text class="t tk" x="328.40" y="141.00" text-anchor="end">9000</text>
<text class="t tk" x="328.40" y="155.40" text-anchor="end">10000</text>
<text class="t tk" x="328.40" y="169.80" text-anchor="end">11000</text>
<path class="ax" d="M366.26 172.30v-1.8M366.26 8.40v1.8M402.22 172.30v-1.8M402.22 8.40v1.8M438.18 172.30v-1.8M438.18 8.40v1.8M474.14 172.30v-1.8M474.14 8.40v1.8M510.10 172.30v-1.8M510.10 8.40v1.8M330.60 23.00h1.8M510.40 23.00h-1.8M330.60 37.40h1.8M510.40 37.40h-1.8M330.60 51.80h1.8M510.40 51.80h-1.8M330.60 66.20h1.8M510.40 66.20h-1.8M330.60 80.60h1.8M510.40 80.60h-1.8M330.60 95.00h1.8M510.40 95.00h-1.8M330.60 109.40h1.8M510.40 109.40h-1.8M330.60 123.80h1.8M510.40 123.80h-1.8M330.60 138.20h1.8M510.40 138.20h-1.8M330.60 152.60h1.8M510.40 152.60h-1.8M330.60 167.00h1.8M510.40 167.00h-1.8"/>
<text class="t lb" x="420.50" y="190.90" text-anchor="middle">Distance direction sample point</text>
<text class="t lb" transform="translate(306.50 90.35) rotate(-90)" text-anchor="middle">Azimuth direction sample point</text>
<rect x="522.40" y="8.40" width="10.50" height="163.90" fill="url(#cb)"/>
<rect class="ax" x="522.40" y="8.40" width="10.50" height="163.90"/>
<text class="t tk" x="535.10" y="158.71">0.1</text>
<text class="t tk" x="535.10" y="142.32">0.2</text>
<text class="t tk" x="535.10" y="125.93">0.3</text>
<text class="t tk" x="535.10" y="109.54">0.4</text>
<text class="t tk" x="535.10" y="93.15">0.5</text>
<text class="t tk" x="535.10" y="76.76">0.6</text>
<text class="t tk" x="535.10" y="60.37">0.7</text>
<text class="t tk" x="535.10" y="43.98">0.8</text>
<text class="t tk" x="535.10" y="27.59">0.9</text>
<path class="ax" d="M532.90 155.91h-1.2M532.90 139.52h-1.2M532.90 123.13h-1.2M532.90 106.74h-1.2M532.90 90.35h-1.2M532.90 73.96h-1.2M532.90 57.57h-1.2M532.90 41.18h-1.2M532.90 24.79h-1.2"/>
<text class="cap" x="137.40" y="211.90" text-anchor="middle">(<tspan class="b">a</tspan>)</text>
<text class="cap" x="433.70" y="211.90" text-anchor="middle">(<tspan class="b">b</tspan>)</text>
<path d="M38.40 409.60C42.00 409.55 53.07 409.43 60.00 409.30C66.93 409.17 73.33 409.02 80.00 408.80C86.67 408.58 93.10 408.30 100.00 408.00C106.90 407.70 115.07 407.42 121.40 407.00C127.73 406.58 133.23 406.17 138.00 405.50C142.77 404.83 146.33 403.98 150.00 403.00C153.67 402.02 157.02 400.77 160.00 399.60C162.98 398.43 165.25 397.50 167.90 396.00C170.55 394.50 173.25 392.73 175.90 390.60C178.55 388.47 181.15 386.02 183.80 383.20C186.45 380.38 189.15 377.32 191.80 373.70C194.45 370.08 197.58 365.00 199.70 361.50C201.82 358.00 203.17 355.28 204.50 352.70C205.83 350.12 206.55 349.22 207.70 346.00C208.85 342.78 209.75 338.77 211.40 333.40C213.05 328.03 215.68 320.33 217.60 313.80C219.52 307.27 221.25 300.73 222.90 294.20C224.55 287.67 226.42 279.05 227.50 274.60C228.58 270.15 228.87 269.32 229.40 267.50C229.93 265.68 230.30 264.53 230.70 263.70C231.10 262.87 231.42 262.52 231.80 262.50C232.18 262.48 232.58 262.88 233.00 263.60C233.42 264.32 233.85 264.97 234.30 266.80C234.75 268.63 235.15 270.03 235.70 274.60C236.25 279.17 237.08 287.67 237.60 294.20C238.12 300.73 238.43 307.27 238.80 313.80C239.17 320.33 239.53 328.20 239.80 333.40C240.07 338.60 240.12 339.73 240.40 345.00C240.68 350.27 241.03 357.50 241.50 365.00C241.97 372.50 242.72 384.00 243.20 390.00C243.68 396.00 244.02 397.72 244.40 401.00C244.78 404.28 245.32 408.25 245.50 409.70L246.30 409.80L38.40 409.80Z" fill="#ff00ff"/>
<rect class="ax" x="38.40" y="246.30" width="207.90" height="163.50"/>
<text class="t tk" x="38.40" y="418.90" text-anchor="middle">0</text>
<text class="t tk" x="79.98" y="418.90" text-anchor="middle">0.2</text>
<text class="t tk" x="121.56" y="418.90" text-anchor="middle">0.4</text>
<text class="t tk" x="163.14" y="418.90" text-anchor="middle">0.6</text>
<text class="t tk" x="204.72" y="418.90" text-anchor="middle">0.8</text>
<text class="t tk" x="246.30" y="418.90" text-anchor="middle">1</text>
<text class="t tk" x="36.00" y="412.60" text-anchor="end">0</text>
<text class="t tk" x="36.00" y="389.24" text-anchor="end">0.5</text>
<text class="t tk" x="36.00" y="365.89" text-anchor="end">1</text>
<text class="t tk" x="36.00" y="342.53" text-anchor="end">1.5</text>
<text class="t tk" x="36.00" y="319.17" text-anchor="end">2</text>
<text class="t tk" x="36.00" y="295.81" text-anchor="end">2.5</text>
<text class="t tk" x="36.00" y="272.46" text-anchor="end">3</text>
<text class="t tk" x="36.00" y="249.10" text-anchor="end">3.5</text>
<path class="ax" d="M79.98 409.80v-2M79.98 246.30v2M121.56 409.80v-2M121.56 246.30v2M163.14 409.80v-2M163.14 246.30v2M204.72 409.80v-2M204.72 246.30v2M38.40 386.44h2M246.30 386.44h-2M38.40 363.09h2M246.30 363.09h-2M38.40 339.73h2M246.30 339.73h-2M38.40 316.37h2M246.30 316.37h-2M38.40 293.01h2M246.30 293.01h-2M38.40 269.66h2M246.30 269.66h-2"/>
<text class="t tk" x="39.10" y="244.40">×<tspan dx="0.7">10</tspan><tspan dy="-2.5" font-size="5">5</tspan></text>
<text class="t lb" x="142.35" y="428.40" text-anchor="middle">Coherence coefficient</text>
<text class="t lb" transform="translate(23.10 328.05) rotate(-90)" text-anchor="middle">Number of pixels</text>
<text class="cap" x="137.40" y="449.80" text-anchor="middle">(<tspan class="b">c</tspan>)</text>
<path d="M334.70 409.70C348.92 409.67 398.75 409.58 420.00 409.50C441.25 409.42 452.20 409.30 462.20 409.20C472.20 409.10 474.53 408.98 480.00 408.90C485.47 408.82 491.57 408.92 495.00 408.70C498.43 408.48 498.75 408.13 500.60 407.60C502.45 407.07 504.38 406.30 506.10 405.50C507.82 404.70 509.30 403.97 510.90 402.80C512.50 401.63 514.12 400.48 515.70 398.50C517.28 396.52 519.08 393.63 520.40 390.90C521.72 388.17 522.53 385.82 523.60 382.10C524.67 378.38 525.87 373.23 526.80 368.60C527.73 363.97 528.52 358.23 529.20 354.30C529.88 350.37 530.13 351.75 530.90 345.00C531.67 338.25 533.02 322.27 533.80 313.80C534.58 305.33 535.10 300.08 535.60 294.20C536.10 288.32 536.52 281.87 536.80 278.50C537.08 275.13 537.15 275.03 537.30 274.00C537.45 272.97 537.55 272.30 537.70 272.30C537.85 272.30 538.00 272.97 538.20 274.00C538.40 275.03 538.65 275.13 538.90 278.50C539.15 281.87 539.43 288.32 539.70 294.20C539.97 300.08 540.27 306.17 540.50 313.80C540.73 321.43 540.93 332.30 541.10 340.00C541.27 347.70 541.35 350.83 541.50 360.00C541.65 369.17 541.85 386.72 542.00 395.00C542.15 403.28 542.33 407.25 542.40 409.70L542.50 409.80L334.70 409.80Z" fill="#ff00ff"/>
<rect class="ax" x="334.70" y="246.30" width="207.80" height="163.50"/>
<text class="t tk" x="334.70" y="418.90" text-anchor="middle">0</text>
<text class="t tk" x="376.26" y="418.90" text-anchor="middle">0.2</text>
<text class="t tk" x="417.82" y="418.90" text-anchor="middle">0.4</text>
<text class="t tk" x="459.38" y="418.90" text-anchor="middle">0.6</text>
<text class="t tk" x="500.94" y="418.90" text-anchor="middle">0.8</text>
<text class="t tk" x="542.50" y="418.90" text-anchor="middle">1</text>
<text class="t tk" x="332.30" y="412.60" text-anchor="end">0</text>
<text class="t tk" x="332.30" y="385.35" text-anchor="end">1</text>
<text class="t tk" x="332.30" y="358.10" text-anchor="end">2</text>
<text class="t tk" x="332.30" y="330.85" text-anchor="end">3</text>
<text class="t tk" x="332.30" y="303.60" text-anchor="end">4</text>
<text class="t tk" x="332.30" y="276.35" text-anchor="end">5</text>
<text class="t tk" x="332.30" y="249.10" text-anchor="end">6</text>
<path class="ax" d="M376.26 409.80v-2M376.26 246.30v2M417.82 409.80v-2M417.82 246.30v2M459.38 409.80v-2M459.38 246.30v2M500.94 409.80v-2M500.94 246.30v2M334.70 382.55h2M542.50 382.55h-2M334.70 355.30h2M542.50 355.30h-2M334.70 328.05h2M542.50 328.05h-2M334.70 300.80h2M542.50 300.80h-2M334.70 273.55h2M542.50 273.55h-2"/>
<text class="t tk" x="335.40" y="244.40">×<tspan dx="0.7">10</tspan><tspan dy="-2.5" font-size="5">5</tspan></text>
<text class="t lb" x="438.60" y="428.40" text-anchor="middle">Coherence coefficient</text>
<text class="t lb" transform="translate(325.40 328.05) rotate(-90)" text-anchor="middle">Number of pixels</text>
<text class="cap" x="433.70" y="449.80" text-anchor="middle">(<tspan class="b">d</tspan>)</text>
</svg>
</body></html>
